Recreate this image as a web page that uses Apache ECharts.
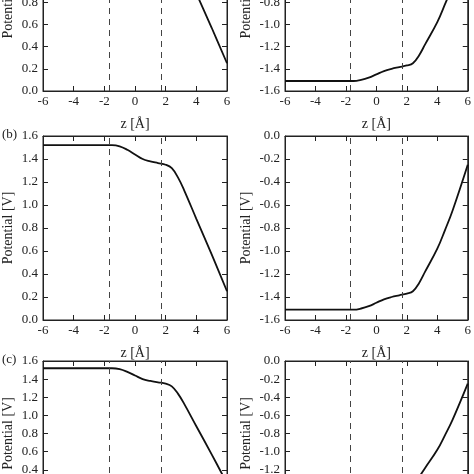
<!DOCTYPE html>
<html><head><meta charset="utf-8">
<script src="https://cdn.jsdelivr.net/npm/echarts@6/dist/echarts.min.js"></script>
<style>html,body{margin:0;background:#fff;overflow:hidden;width:474px;height:474px}#c{width:474px;height:640px;margin-top:-93px}</style>
</head><body><div id="c"></div>
<script>
// z positions and potentials
const zLeft = [-6, -4, -2, -1.5, -1, -0.5, 0, 0.5, 1, 1.5, 2, 2.4, 2.8, 3.2, 4, 5, 6];
const vLeft = [1.52, 1.52, 1.52, 1.52, 1.51, 1.48, 1.44, 1.40, 1.38, 1.365, 1.35, 1.32, 1.24, 1.13, 0.88, 0.57, 0.25];
const zRight = [-6, -4, -2, -1.5, -1, -0.5, 0, 0.5, 1, 1.5, 2, 2.4, 2.8, 3.2, 4, 4.5, 5, 6];
const vRight = [-1.51, -1.51, -1.51, -1.51, -1.50, -1.48, -1.45, -1.42, -1.40, -1.385, -1.37, -1.35, -1.28, -1.18, -0.98, -0.82, -0.65, -0.25];
const walls = [-1.7, 1.7];
const panelTags = ['', '(b)', '(c)'];

const font = 'Liberation Serif';
const rowTops = [0, 229, 454];
const colLefts = [42, 285];
const W = 185, H = 184;

const grids = [], xAxes = [], yAxes = [], series = [], graphic = [];
let k = 0;
rowTops.forEach((top, r) => {
  colLefts.forEach((left, c) => {
    grids.push({left, top, width: W, height: H, show: true, borderColor: '#222', borderWidth: 1});
    const axBase = {gridIndex: k, type: 'value', min: -6, max: 6, interval: 2,
      axisLine: {onZero: false, lineStyle: {color: '#222'}}, axisTick: {inside: true, length: 5, lineStyle: {color: '#222'}},
      splitLine: {show: false}};
    xAxes.push(Object.assign({}, axBase, {position: 'bottom', name: 'z [Å]', nameLocation: 'middle', nameGap: 26,
      nameTextStyle: {fontFamily: font, fontSize: 14, color: '#222'},
      axisLabel: {fontFamily: font, fontSize: 13, color: '#222', margin: 4}}));
    xAxes.push(Object.assign({}, axBase, {position: 'top', axisLabel: {show: false}}));
    const yMin = c === 0 ? 0 : -1.6, yMax = c === 0 ? 1.6 : 0;
    const yBase = {gridIndex: k, type: 'value', min: yMin, max: yMax, interval: 0.2,
      axisLine: {onZero: false, lineStyle: {color: '#222'}}, axisTick: {inside: true, length: 5, lineStyle: {color: '#222'}},
      splitLine: {show: false}};
    yAxes.push(Object.assign({}, yBase, {position: 'left',
      name: 'Potential [V]', nameLocation: 'middle', nameGap: c === 0 ? 28 : 32,
      nameTextStyle: {fontFamily: font, fontSize: 14, color: '#222'},
      axisLabel: {fontFamily: font, fontSize: 13, color: '#222', margin: 5, formatter: v => v.toFixed(1)}}));
    yAxes.push(Object.assign({}, yBase, {position: 'right', axisLabel: {show: false}}));
    const zs = c === 0 ? zLeft : zRight, vs = c === 0 ? vLeft : vRight;
    series.push({type: 'line', xAxisIndex: 2 * k, yAxisIndex: 2 * k, smooth: 0.4, showSymbol: false,
      data: zs.map((z, i) => [z, vs[i]]), lineStyle: {color: '#111', width: 1.8},
      markLine: {silent: true, symbol: 'none', label: {show: false},
        lineStyle: {type: [6, 5], color: '#444', width: 1}, data: walls.map(w => ({xAxis: w}))}});
    k++;
  });
  if (panelTags[r]) graphic.push({type: 'text', left: 2, top: top - 8,
    style: {text: panelTags[r], font: '13px ' + font, fill: '#222'}});
});

const chart = echarts.init(document.getElementById('c'));
chart.setOption({animation: false, grid: grids, xAxis: xAxes, yAxis: yAxes, series, graphic});
</script></body></html>
